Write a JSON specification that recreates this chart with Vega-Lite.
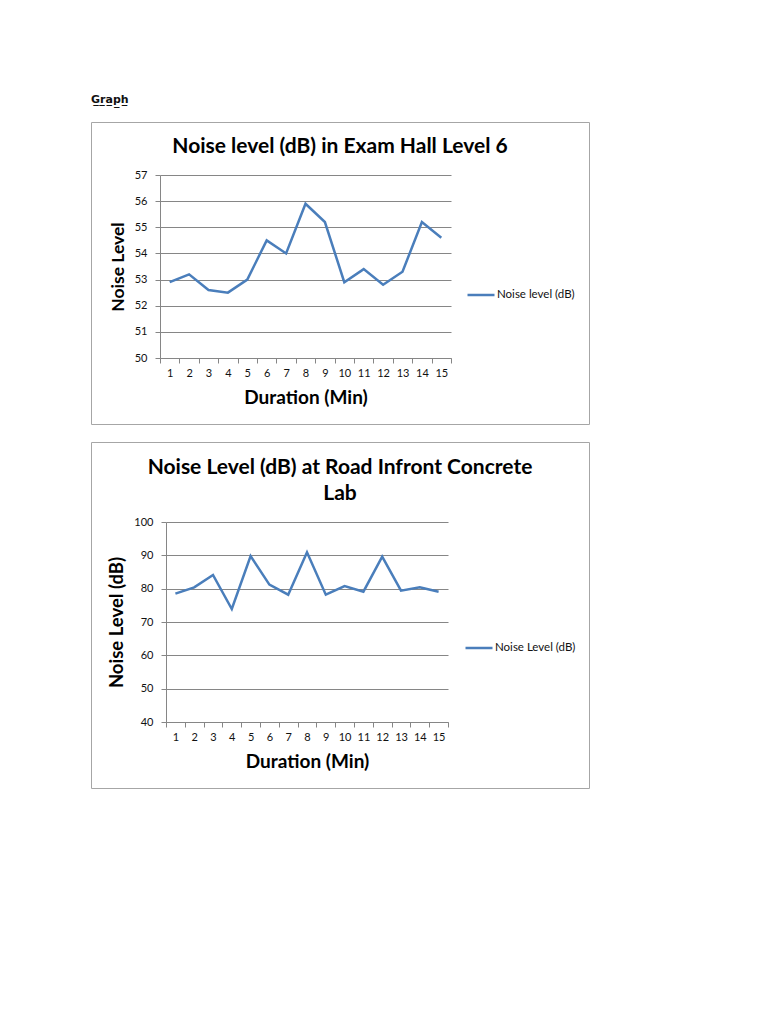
{
  "$schema": "https://vega.github.io/schema/vega-lite/v6.json",
  "padding": {"left": 90, "top": 93, "right": 10, "bottom": 10},
  "background": "white",
  "title": {
    "text": "G̲r̲a̲p̲h̲",
    "anchor": "start",
    "frame": "group",
    "baseline": "top",
    "font": "DejaVu Sans",
    "fontSize": 11,
    "fontWeight": "bold",
    "color": "#111",
    "offset": 17
  },
  "datasets": {
    "hall": [
      {"minute": 1, "noise": 52.9, "series": "Noise level (dB)"},
      {"minute": 2, "noise": 53.2, "series": "Noise level (dB)"},
      {"minute": 3, "noise": 52.6, "series": "Noise level (dB)"},
      {"minute": 4, "noise": 52.5, "series": "Noise level (dB)"},
      {"minute": 5, "noise": 53.0, "series": "Noise level (dB)"},
      {"minute": 6, "noise": 54.5, "series": "Noise level (dB)"},
      {"minute": 7, "noise": 54.0, "series": "Noise level (dB)"},
      {"minute": 8, "noise": 55.9, "series": "Noise level (dB)"},
      {"minute": 9, "noise": 55.2, "series": "Noise level (dB)"},
      {"minute": 10, "noise": 52.9, "series": "Noise level (dB)"},
      {"minute": 11, "noise": 53.4, "series": "Noise level (dB)"},
      {"minute": 12, "noise": 52.8, "series": "Noise level (dB)"},
      {"minute": 13, "noise": 53.3, "series": "Noise level (dB)"},
      {"minute": 14, "noise": 55.2, "series": "Noise level (dB)"},
      {"minute": 15, "noise": 54.6, "series": "Noise level (dB)"}
    ],
    "road": [
      {"minute": 1, "noise": 78.5, "series": "Noise Level (dB)"},
      {"minute": 2, "noise": 80.4, "series": "Noise Level (dB)"},
      {"minute": 3, "noise": 84.1, "series": "Noise Level (dB)"},
      {"minute": 4, "noise": 73.9, "series": "Noise Level (dB)"},
      {"minute": 5, "noise": 89.8, "series": "Noise Level (dB)"},
      {"minute": 6, "noise": 81.2, "series": "Noise Level (dB)"},
      {"minute": 7, "noise": 78.2, "series": "Noise Level (dB)"},
      {"minute": 8, "noise": 90.9, "series": "Noise Level (dB)"},
      {"minute": 9, "noise": 78.2, "series": "Noise Level (dB)"},
      {"minute": 10, "noise": 80.8, "series": "Noise Level (dB)"},
      {"minute": 11, "noise": 79.1, "series": "Noise Level (dB)"},
      {"minute": 12, "noise": 89.6, "series": "Noise Level (dB)"},
      {"minute": 13, "noise": 79.4, "series": "Noise Level (dB)"},
      {"minute": 14, "noise": 80.4, "series": "Noise Level (dB)"},
      {"minute": 15, "noise": 79.1, "series": "Noise Level (dB)"}
    ]
  },
  "spacing": 16,
  "resolve": {
    "scale": {"color": "independent", "x": "independent", "y": "independent"},
    "legend": {"color": "independent"}
  },
  "vconcat": [
    {
      "width": 498,
      "height": 302,
      "title": {
        "text": "Noise level (dB) in Exam Hall Level 6",
        "anchor": "middle",
        "frame": "group",
        "offset": -35,
        "fontSize": 21
      },
      "data": {"name": "hall"},
      "mark": {"type": "line", "strokeWidth": 2.5},
      "encoding": {
        "x": {
          "field": "minute",
          "type": "ordinal",
          "bandPosition": 0.5,
          "scale": {"type": "band", "range": [69, 360], "paddingInner": 0, "paddingOuter": 0},
          "axis": {"title": "Duration (Min)", "offset": -66, "grid": false, "tickBand": "extent", "labelAngle": 0}
        },
        "y": {
          "field": "noise",
          "type": "quantitative",
          "scale": {"domain": [50, 57], "nice": false, "zero": false, "range": [236, 53]},
          "axis": {"title": "Noise Level", "titleFontSize": 17.5, "offset": -69, "values": [50, 51, 52, 53, 54, 55, 56, 57]}
        },
        "color": {
          "field": "series",
          "type": "nominal",
          "scale": {"range": ["#4a7ebb"]},
          "legend": {"orient": "none", "legendX": 375, "legendY": 158}
        }
      }
    },
    {
      "width": 498,
      "height": 346,
      "title": {
        "text": ["Noise Level (dB) at Road Infront Concrete", "Lab"],
        "anchor": "middle",
        "frame": "group",
        "offset": -62,
        "fontSize": 21,
        "lineHeight": 26
      },
      "data": {"name": "road"},
      "mark": {"type": "line", "strokeWidth": 2.5},
      "encoding": {
        "x": {
          "field": "minute",
          "type": "ordinal",
          "bandPosition": 0.5,
          "scale": {"type": "band", "range": [75, 357], "paddingInner": 0, "paddingOuter": 0},
          "axis": {"title": "Duration (Min)", "offset": -66, "grid": false, "tickBand": "extent", "labelAngle": 0}
        },
        "y": {
          "field": "noise",
          "type": "quantitative",
          "scale": {"domain": [40, 100], "nice": false, "zero": false, "range": [280, 80]},
          "axis": {"title": "Noise Level (dB)", "titleFontSize": 18.5, "offset": -75, "values": [40, 50, 60, 70, 80, 90, 100]}
        },
        "color": {
          "field": "series",
          "type": "nominal",
          "scale": {"range": ["#4a7ebb"]},
          "legend": {"orient": "none", "legendX": 373, "legendY": 191}
        }
      }
    }
  ],
  "config": {
    "font": "Lato",
    "view": {"stroke": "#a6a6a6", "strokeWidth": 1, "fill": "white"},
    "title": {"font": "Lato", "fontWeight": "bold", "color": "#000"},
    "axis": {
      "labelFont": "Lato",
      "labelFontSize": 11,
      "labelColor": "#111",
      "titleFont": "Lato",
      "titleFontWeight": "bold",
      "titleColor": "#000",
      "domainColor": "#868686",
      "tickColor": "#868686",
      "tickSize": 5,
      "gridColor": "#868686",
      "gridOpacity": 1
    },
    "axisX": {"labelPadding": 4, "titleFontSize": 19, "titlePadding": 10},
    "axisY": {"labelPadding": 8, "titlePadding": 7, "grid": true},
    "legend": {
      "title": null,
      "padding": 0,
      "symbolType": "stroke",
      "symbolSize": 729,
      "symbolStrokeWidth": 2.5,
      "labelFont": "Lato",
      "labelFontSize": 11.5,
      "labelColor": "#111",
      "labelOffset": 1
    }
  }
}
